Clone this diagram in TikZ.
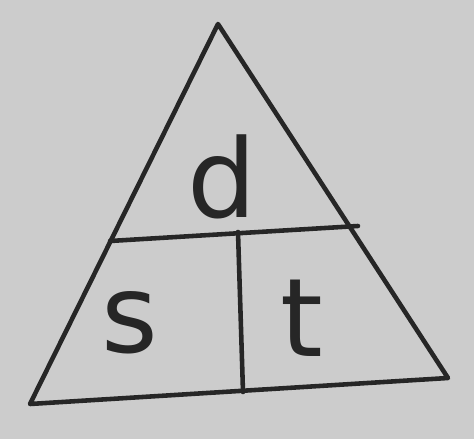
\documentclass[tikz,border=0pt]{standalone}
\usepackage{fontspec}
\setsansfont{DejaVu Sans}
\begin{document}
\begin{tikzpicture}[x=0.02cm,y=-0.02cm,
pen/.style={line width=2.6pt,line cap=round,line join=round,draw=black!85},
letter/.style={font=\sffamily\fontsize{62}{62}\selectfont,text=black!85,inner sep=0pt}]

\fill[black!20] (0,0) rectangle (474,439);
\useasboundingbox (0,0) rectangle (474,439);

\coordinate (top) at (218,24);
\coordinate (bl) at (30,404);
\coordinate (br) at (448,378);
\coordinate (ml) at (110,241);
\coordinate (mr) at (358,226);
\coordinate (vt) at (238,232);
\coordinate (vb) at (243,392);

\draw[pen] (top) -- (bl) -- (br) -- cycle;
\draw[pen] (ml) -- (mr);
\draw[pen] (vt) -- (vb);

\node[letter] (d) at (222,177) {d};
\node[letter] (s) at (130,323) {s};
\node[letter] (t) at (302,318) {t};

\end{tikzpicture}
\end{document}
